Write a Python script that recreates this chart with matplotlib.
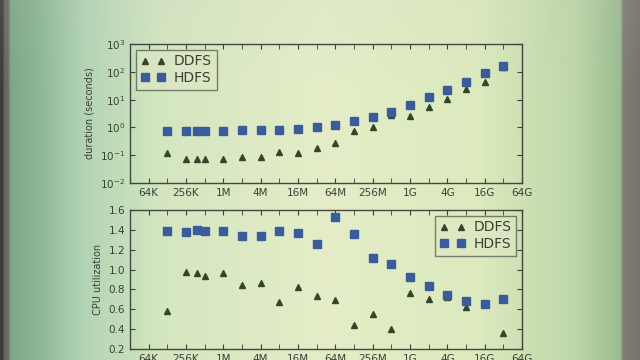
"""Duration and CPU utilization of DDFS vs HDFS across file sizes."""

import matplotlib
matplotlib.use("Agg")
import matplotlib.pyplot as plt
import numpy as np
from matplotlib.ticker import FixedLocator, NullFormatter

K = 2 ** 10
M = 2 ** 20
G = 2 ** 30

sizes = [128 * K, 256 * K, 384 * K, 512 * K, 1 * M, 2 * M, 4 * M, 8 * M,
         16 * M, 32 * M, 64 * M, 128 * M, 256 * M, 512 * M, 1 * G, 2 * G,
         4 * G, 8 * G, 16 * G, 32 * G]

ddfs_duration = [0.125, 0.072, 0.074, 0.076, 0.074, 0.085, 0.087, 0.13,
                 0.125, 0.18, 0.28, 0.76, 1.0, 2.9, 2.6, 5.4,
                 10.3, 23.5, 42.0, 155.0]
hdfs_duration = [0.72, 0.72, 0.72, 0.72, 0.72, 0.78, 0.78, 0.8,
                 0.87, 1.03, 1.2, 1.65, 2.45, 3.5, 6.6, 12.1,
                 22.3, 44.6, 89.0, 160.0]

ddfs_cpu = [0.58, 0.98, 0.97, 0.935, 0.97, 0.845, 0.86, 0.675,
            0.82, 0.735, 0.69, 0.44, 0.555, 0.405, 0.765, 0.705,
            0.725, 0.62, 0.65, 0.365]
hdfs_cpu = [1.39, 1.38, 1.40, 1.39, 1.39, 1.34, 1.335, 1.385,
            1.37, 1.26, 1.53, 1.355, 1.115, 1.055, 0.93, 0.835,
            0.745, 0.685, 0.655, 0.705]

tick_sizes = [64 * K, 256 * K, 1 * M, 4 * M, 16 * M, 64 * M, 256 * M,
              1 * G, 4 * G, 16 * G, 64 * G]
tick_labels = ["64K", "256K", "1M", "4M", "16M", "64M", "256M",
               "1G", "4G", "16G", "64G"]
minor_sizes = [2 ** p for p in range(15, 37, 2)]

TRI = "#33462b"
SQ = "#3b5c9c"
TXT = "#3a4038"
LEG_BG = "#dfe8c4"

# photo-of-slide backdrop: horizontal colour profile (position, r, g, b)
bg_stops = [
    (0.000, 60, 60, 60), (0.004, 62, 62, 62), (0.006, 100, 100, 96),
    (0.012, 105, 108, 100), (0.016, 128, 166, 136), (0.05, 135, 178, 146),
    (0.13, 178, 212, 180), (0.25, 212, 230, 192), (0.5, 228, 237, 200),
    (0.75, 220, 234, 190), (0.9, 190, 214, 168), (0.97, 155, 188, 145),
    (0.975, 128, 124, 118), (1.0, 118, 114, 108),
]


def backdrop(fig):
    bx = fig.add_axes([0, 0, 1, 1], zorder=-10)
    bx.set_axis_off()
    xs = np.linspace(0, 1, 640)
    pos = [s[0] for s in bg_stops]
    row = np.stack([np.interp(xs, pos, [s[c] for s in bg_stops])
                    for c in (1, 2, 3)], axis=-1) / 255.0
    ys = np.linspace(0, 1, 360)[:, None, None]
    grey = 0.10 * np.clip(1 - ys / 0.25, 0, 1)  # slightly greyer at the top
    img = row[None, :, :] * (1 - grey) + 0.78 * grey
    bx.imshow(img, aspect="auto", extent=(0, 1, 0, 1), origin="upper")
    bx.set_xlim(0, 1)
    bx.set_ylim(0, 1)


def style_axes(ax):
    ax.set_facecolor("none")
    ax.set_xscale("log", base=2)
    ax.set_xlim(32 * K, 64 * G)
    ax.xaxis.set_major_locator(FixedLocator(tick_sizes))
    ax.xaxis.set_minor_locator(FixedLocator(minor_sizes))
    ax.xaxis.set_minor_formatter(NullFormatter())
    ax.set_xticklabels(tick_labels)
    ax.tick_params(which="both", direction="in", top=True, right=True,
                   labelsize=7.5, colors=TXT, length=3.5)
    for s in ax.spines.values():
        s.set_color("#404840")
        s.set_linewidth(1.0)


def add_legend(ax, loc):
    leg = ax.legend(loc=loc, numpoints=2, fontsize=10, fancybox=False,
                    frameon=True, handlelength=1.8, borderpad=0.35,
                    labelspacing=0.2, handletextpad=0.6, borderaxespad=0.4)
    leg.get_frame().set_edgecolor("#303830")
    leg.get_frame().set_facecolor(LEG_BG)
    leg.get_frame().set_alpha(0.6)
    for t in leg.get_texts():
        t.set_color(TXT)


def main() -> None:
    fig = plt.figure(figsize=(6.4, 3.6), dpi=100)
    backdrop(fig)
    ax1 = fig.add_axes([130 / 640, 1 - 183 / 360, 392 / 640, 139 / 360])
    ax2 = fig.add_axes([130 / 640, 1 - 349 / 360, 392 / 640, 139 / 360])

    # top: duration
    style_axes(ax1)
    ax1.plot(sizes, ddfs_duration, "^", color=TRI, markersize=5,
             markeredgecolor=TRI, label="DDFS", linestyle="none")
    ax1.plot(sizes, hdfs_duration, "s", color=SQ, markersize=5.5,
             markeredgecolor=SQ, label="HDFS", linestyle="none")
    ax1.set_yscale("log")
    ax1.set_ylim(1e-2, 1e3)
    ax1.yaxis.set_minor_locator(FixedLocator([]))
    ax1.set_ylabel("duration (seconds)", fontsize=7, color=TXT)
    add_legend(ax1, "upper left")

    # bottom: cpu utilization
    style_axes(ax2)
    ax2.plot(sizes, ddfs_cpu, "^", color=TRI, markersize=5,
             markeredgecolor=TRI, label="DDFS", linestyle="none")
    ax2.plot(sizes, hdfs_cpu, "s", color=SQ, markersize=5.5,
             markeredgecolor=SQ, label="HDFS", linestyle="none")
    ax2.set_ylim(0.2, 1.6)
    ax2.set_yticks([0.2, 0.4, 0.6, 0.8, 1.0, 1.2, 1.4, 1.6])
    ax2.set_ylabel("CPU utilization", fontsize=7, color=TXT)
    add_legend(ax2, "upper right")

    fig.savefig("out.png", dpi=100)


if __name__ == "__main__":
    main()
